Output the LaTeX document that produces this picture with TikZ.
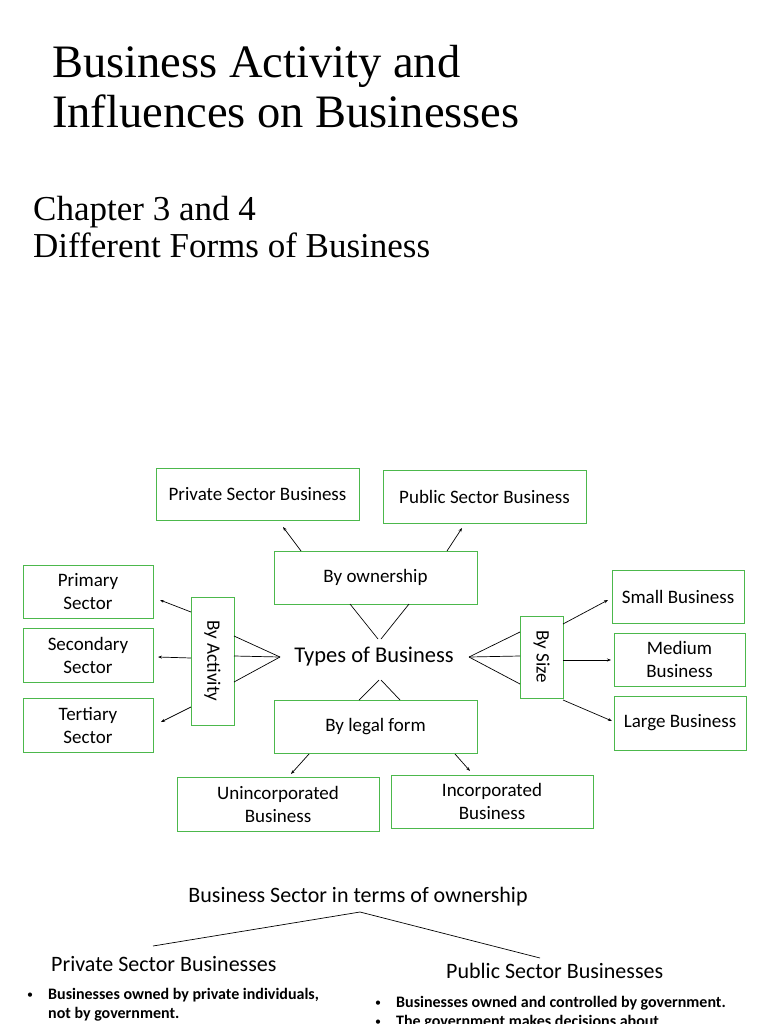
\documentclass[tikz,border=0pt]{standalone}
\usepackage{fontspec}
\setmainfont{Carlito}
\newfontfamily\serif{Liberation Serif}
\usetikzlibrary{arrows.meta}
\begin{document}
\begin{tikzpicture}[x=1pt,y=-1pt,
 box/.style={draw=green!60!black!70!white,line width=0.9pt,fill=white,inner sep=0pt,align=center,font=\fontsize{19}{23}\selectfont},
 con/.style={line width=0.7pt},
 arr/.style={line width=0.7pt,-{Stealth[length=4pt,width=3pt]}}]
\clip (0,0) rectangle (768,1024);
\fill[white] (0,0) rectangle (768,1024);
\node[anchor=west,align=left,inner sep=0pt,font=\serif\fontsize{46.5}{50}\selectfont] (t1) at (52,87) {Business Activity and\\Influences on Businesses};
\node[anchor=west,align=left,inner sep=0pt,font=\serif\fontsize{35}{37}\selectfont] (t2) at (33,227) {Chapter 3 and 4\\Different Forms of Business};
\def\bx#1#2#3#4#5#6{\node[box,minimum width=#4-#2,minimum height=#5-#3] (#1) at ({(#2+#4)/2},{(#3+#5)/2}) {#6};}
\bx{priv}{156}{468}{359}{520}{Private Sector Business}
\bx{pub}{383}{470}{586}{523}{Public Sector Business}
\bx{own}{274}{551}{477}{604}{By ownership}
\bx{prim}{23}{565}{153}{618}{Primary\\Sector}
\bx{sec}{23}{628}{153}{682}{Secondary\\Sector}
\bx{ter}{23}{698}{153}{752}{Tertiary\\Sector}
\bx{act}{191}{597}{234}{725}{}
\node[rotate=-90,font=\fontsize{19}{23}\selectfont] (actt) at (act.center) {By Activity};
\bx{size}{520}{616}{563}{698}{}
\node[rotate=-90,font=\fontsize{19}{23}\selectfont] (sizet) at (size.center) {By Size};
\bx{small}{612}{570}{744}{623}{Small Business}
\bx{med}{614}{633}{745}{686}{Medium\\Business}
\bx{large}{614}{696}{746}{750}{Large Business}
\bx{legal}{274}{700}{477}{753}{By legal form}
\bx{uninc}{177}{777}{379}{831}{Unincorporated\\Business}
\bx{inc}{391}{775}{593}{828}{Incorporated\\Business}
\node[font=\fontsize{22.5}{26}\selectfont] (types) at (374,657) {Types of Business};
\coordinate (tl) at (280,657); \coordinate (tr) at (469,657);
\coordinate (tt) at (378,639); \coordinate (tb) at (379,680);
\draw[con] (tl) -- (234,636); \draw[con] (tl) -- (234,656); \draw[con] (tl) -- (234,682);
\draw[con] (tr) -- (520,632); \draw[con] (tr) -- (520,656); \draw[con] (tr) -- (520,684);
\draw[con] (tt) -- (350,604); \draw[con] (tt)++(3,0) -- (409,604);
\draw[con] (tb) -- (359,700); \draw[con] (tb)++(2,0) -- (400,700);
\draw[arr] (191,612) -- (160,600);
\draw[arr] (191,658) -- (158,657);
\draw[arr] (191,707) -- (161,722);
\draw[arr] (301,551) -- (283,527);
\draw[arr] (447,551) -- (462,528);
\draw[arr] (563,624) -- (608,600);
\draw[arr] (563,660) -- (611,660);
\draw[arr] (563,700) -- (612,721);
\draw[arr] (309,754) -- (291,774);
\draw[arr] (455,754) -- (470,771);
\node[font=\fontsize{22}{26}\selectfont] (bs) at (358,897) {Business Sector in terms of ownership};
\node[anchor=west,inner sep=0pt,font=\fontsize{22}{26}\selectfont] (ps) at (51,964) {Private Sector Businesses};
\node[anchor=west,inner sep=0pt,font=\fontsize{22}{26}\selectfont] (pu) at (446,971) {Public Sector Businesses};
\coordinate (apex) at (360,912);
\draw[con] (apex) -- (153,946); \draw[con] (apex) -- (540,958);
\node[anchor=north west,align=left,inner sep=0pt,font=\bfseries\fontsize{16}{19}\selectfont] (b1) at (48,988) {Businesses owned by private individuals,\\not by government.};
\node[font=\fontsize{12}{12}\selectfont] (d1) at (30,996) {•};
\node[anchor=north west,align=left,inner sep=0pt,font=\bfseries\fontsize{16}{19}\selectfont] (b2) at (396,996) {Businesses owned and controlled by government.\\The government makes decisions about};
\node[font=\fontsize{12}{12}\selectfont] (d2) at (378,1004) {•};
\node[font=\fontsize{12}{12}\selectfont] (d3) at (378,1023) {•};
\end{tikzpicture}
\end{document}
